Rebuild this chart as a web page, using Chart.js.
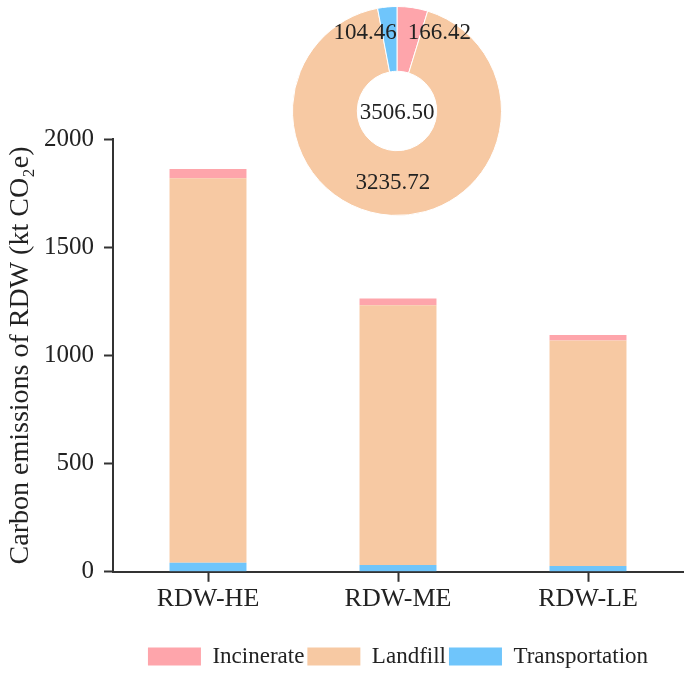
<!DOCTYPE html>
<html>
<head>
<meta charset="utf-8">
<script src="https://cdn.jsdelivr.net/npm/chart.js@4.4.1/dist/chart.umd.min.js"></script>
<style>
  html, body { margin: 0; padding: 0; background: #fff; }
  #wrap { position: relative; width: 685px; height: 681px; }
  #bars { position: absolute; left: 0; top: 0; }
  #ring { position: absolute; left: 286px; top: 0; }
</style>
</head>
<body>
<div id="wrap">
  <canvas id="bars" width="685" height="681"></canvas>
  <canvas id="ring" width="222" height="222"></canvas>
</div>
<script>
// bar data (kt CO2e)
const categories = ["RDW-HE", "RDW-ME", "RDW-LE"];
const transportation = [42, 32, 27];
const landfill = [1777, 1200, 1042];
const incinerate = [42, 31, 25];
const yTicks = [0, 500, 1000, 1500, 2000];

// inset doughnut
const ringLabels = ["Incinerate", "Landfill", "Transportation"];
const ringValues = [166.42, 3235.72, 104.46];
const ringTotal = "3506.50";

const colors = { Incinerate: "#fea5ab", Landfill: "#f7c9a3", Transportation: "#6fc5fb" };
const serif = "'Liberation Serif', 'Times New Roman', serif";
const ink = "#222";

Chart.defaults.font.family = serif;
Chart.defaults.color = ink;

new Chart(document.getElementById("bars"), {
  type: "bar",
  data: {
    labels: categories,
    datasets: [
      { label: "Transportation", data: transportation, backgroundColor: colors.Transportation },
      { label: "Landfill", data: landfill, backgroundColor: colors.Landfill },
      { label: "Incinerate", data: incinerate, backgroundColor: colors.Incinerate },
    ],
  },
  options: {
    responsive: false,
    animation: false,
    categoryPercentage: 1,
    barPercentage: 0.405,
    layout: { padding: { top: 139, right: 2, bottom: 3, left: 4 } },
    plugins: {
      tooltip: { enabled: false },
      legend: {
        position: "bottom",
        reverse: true,
        fullSize: false,
        labels: { boxWidth: 53, boxHeight: 18, padding: 3, font: { size: 23 }, color: ink },
      },
    },
    scales: {
      x: {
        stacked: true,
        afterFit: (s) => { s.height += 25; },
        grid: { drawOnChartArea: false, offset: false, tickLength: 10, tickColor: "#333", tickWidth: 2 },
        border: { color: "#333", width: 2 },
        ticks: { font: { size: 26 }, color: ink, padding: 2 },
      },
      y: {
        stacked: true,
        min: 0,
        max: 2000,
        afterFit: (s) => { s.width = 109; },
        afterBuildTicks: (s) => { s.ticks = yTicks.map((v) => ({ value: v })); },
        grid: { drawOnChartArea: false, tickLength: 9, tickColor: "#333", tickWidth: 2 },
        border: { color: "#333", width: 2 },
        ticks: { font: { size: 25 }, color: ink, padding: 10, callback: (v) => String(v) },
        title: { display: true, text: "Carbon emissions of RDW (kt CO\u2082e)", font: { size: 28 }, padding: 0 },
      },
    },
  },
});

// value labels on the doughnut
const ringText = {
  id: "ringText",
  afterDatasetsDraw(chart) {
    const ctx = chart.ctx;
    const arcs = chart.getDatasetMeta(0).data;
    ctx.save();
    ctx.font = "23px " + serif;
    ctx.fillStyle = ink;
    ctx.textBaseline = "middle";
    arcs.forEach((arc, i) => {
      const p = arc.getProps(["startAngle", "endAngle", "innerRadius", "outerRadius", "x", "y"], true);
      const mid = (p.startAngle + p.endAngle) / 2;
      const small = p.endAngle - p.startAngle < 0.5;
      const r = small ? p.innerRadius + (p.outerRadius - p.innerRadius) * 0.6 : (p.innerRadius + p.outerRadius) / 2;
      let px = p.x + Math.cos(mid) * r;
      const py = p.y + Math.sin(mid) * r;
      if (small) {
        const right = Math.cos(mid) > 0;
        ctx.textAlign = right ? "left" : "right";
        px += right ? -1 : 7;
      } else {
        ctx.textAlign = "center";
      }
      ctx.fillText(ringValues[i].toFixed(2), px, py);
    });
    ctx.textAlign = "center";
    ctx.fillText(ringTotal, arcs[0].x, arcs[0].y + 2);
    ctx.restore();
  },
};

new Chart(document.getElementById("ring"), {
  type: "doughnut",
  data: {
    labels: ringLabels,
    datasets: [{
      data: ringValues,
      backgroundColor: ringLabels.map((l) => colors[l]),
      borderColor: "#fff",
      borderWidth: 1,
    }],
  },
  options: {
    responsive: false,
    animation: false,
    cutout: "38%",
    layout: { padding: 6 },
    plugins: { legend: { display: false }, tooltip: { enabled: false } },
  },
  plugins: [ringText],
});
</script>
</body>
</html>
